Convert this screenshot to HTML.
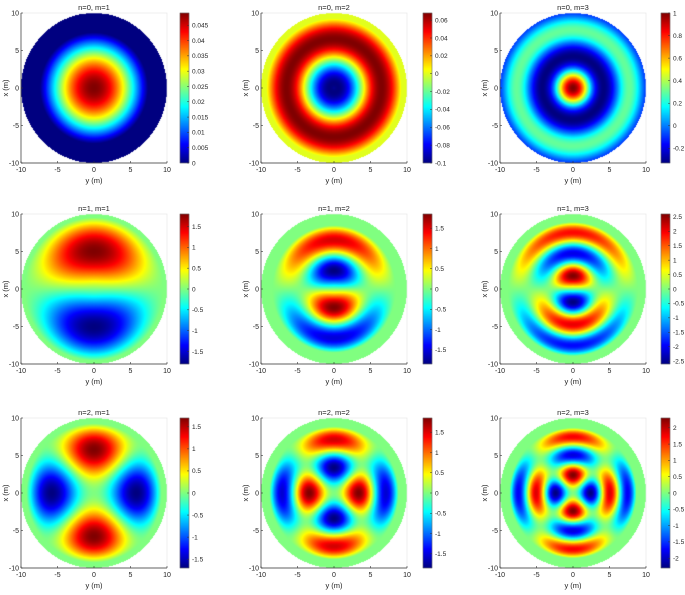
<!DOCTYPE html>
<html><head><meta charset="utf-8">
<style>
body{margin:0;background:#fff;}
#wrap{position:relative;width:685px;height:595px;overflow:hidden;font-family:"Liberation Sans",sans-serif;}
canvas,svg{position:absolute;left:0;top:0;}
</style></head>
<body>
<div id="wrap">
<canvas id="cv" width="685" height="595"></canvas>
<svg id="sv" width="685" height="595"></svg>
</div>
<script>
// mode parameters per panel
const modeN = [0,0,0, 1,1,1, 2,2,2];
const modeM = [1,2,3, 1,2,3, 1,2,3];
const besselZeros = [[2.4048,5.5201,8.6537],[3.8317,7.0156,10.1735],[5.1356,8.4172,11.6198]];
// colorbar ranges
const cbMin = [0,-0.1,-0.33, -1.8,-1.85,-2.6, -1.7,-1.85,-2.3];
const cbMax = [0.049,0.068,1, 1.8,1.85,2.6, 1.7,1.85,2.3];
const cbTicks = [
 [0,0.005,0.01,0.015,0.02,0.025,0.03,0.035,0.04,0.045],
 [-0.1,-0.08,-0.06,-0.04,-0.02,0,0.02,0.04,0.06],
 [-0.2,0,0.2,0.4,0.6,0.8,1],
 [-1.5,-1,-0.5,0,0.5,1,1.5],
 [-1.5,-1,-0.5,0,0.5,1,1.5],
 [-2.5,-2,-1.5,-1,-0.5,0,0.5,1,1.5,2,2.5],
 [-1.5,-1,-0.5,0,0.5,1,1.5],
 [-1.5,-1,-0.5,0,0.5,1,1.5],
 [-2,-1.5,-1,-0.5,0,0.5,1,1.5,2]
];
const axisTicks = [-10,-5,0,5,10];
// appearance tuning per panel (radial scale, envelope boost)
const radialScale = [1.35,1.08,1.05, 1.05,1.18,1.12, 1.08,1.13,1.15];
const envBoost = [0,0.3,0, 0.4,0.5,0.5, 0.4,0.5,0.5];

const colLeft=[21,261,500], colW=146, cbOff=[159,162,161], cbW=9;
const rowTop=[13,214,418], rowH=150;

function jet(t){t=Math.max(0,Math.min(1,t));
 const f=x=>Math.max(0,Math.min(1,x));
 return [f(1.5-Math.abs(4*t-3)),f(1.5-Math.abs(4*t-2)),f(1.5-Math.abs(4*t-1))].map(v=>Math.round(v*255));}
function besselJ(n,x){let s=0;const N=80;for(let i=0;i<N;i++){const tau=(i+0.5)*Math.PI/N;s+=Math.cos(n*tau-x*Math.sin(tau));}return s/N;}

const cv=document.getElementById('cv'),ctx=cv.getContext('2d');
const sv=document.getElementById('sv'),NS='http://www.w3.org/2000/svg';
function mk(tag,attrs,txt){const e=document.createElementNS(NS,tag);for(const k in attrs)e.setAttribute(k,attrs[k]);if(txt!==undefined)e.textContent=txt;sv.appendChild(e);return e;}
function fmt(v){return String(Math.round(v*1000)/1000);}

for(let p=0;p<9;p++){
 const n=modeN[p],m=modeM[p],k=besselZeros[n][m-1],sign=(m%2===1)?1:-1;
 const L=colLeft[p%3],T=rowTop[Math.floor(p/3)],W=colW,H=rowH;
 const vmin=cbMin[p],vmax=cbMax[p];
 const NL=600,lut=new Float64Array(NL+1);let fmx=0,fmn=0;
 for(let i=0;i<=NL;i++){
   let rr=(i/NL)*radialScale[p];
   let j;
   if(rr>1 && p!==2) j=0;
   else { j=besselJ(n,k*rr); j*=Math.pow(0.25+Math.min(rr,1),envBoost[p]); }
   const v=sign*j;lut[i]=v;
   if(n===0){fmx=Math.max(fmx,v);fmn=Math.min(fmn,v);}else{fmx=Math.max(fmx,Math.abs(v));fmn=-fmx;}}
 const img=ctx.createImageData(W,H);
 for(let py=0;py<H;py++)for(let px=0;px<W;px++){
   const Y=-10+20*(px+0.5)/W,X=10-20*(py+0.5)/H,r=Math.sqrt(X*X+Y*Y);
   const o=(py*W+px)*4;
   if(r>10){img.data[o]=255;img.data[o+1]=255;img.data[o+2]=255;img.data[o+3]=255;continue;}
   const phi=Math.atan2(Y,X);
   const f=lut[Math.round(r/10*NL)]*Math.cos(n*phi);
   let v=f>=0?(fmx>0?f/fmx*vmax:0):(fmn<0?f/fmn*vmin:0);
   const c=jet((v-vmin)/(vmax-vmin));
   img.data[o]=c[0];img.data[o+1]=c[1];img.data[o+2]=c[2];img.data[o+3]=255;}
 ctx.putImageData(img,L,T);
 const CL=L+cbOff[p%3];
 for(let i=0;i<H;i++){const c=jet(1-(i+0.5)/H);ctx.fillStyle=`rgb(${c[0]},${c[1]},${c[2]})`;ctx.fillRect(CL,T+i,cbW,1);}
 mk('rect',{x:L,y:T,width:W,height:H,fill:'none',stroke:'#e4e4e4','stroke-width':0.6,});
 mk('line',{x1:L,y1:T,x2:L,y2:T+H,stroke:'#333','stroke-width':0.7,});
 mk('line',{x1:L,y1:T+H,x2:L+W,y2:T+H,stroke:'#333','stroke-width':0.7,});
 axisTicks.forEach(t=>{
   const xx=L+(t+10)/20*W, yy=T+H-(t+10)/20*H;
   mk('line',{x1:xx,y1:T+H,x2:xx,y2:T+H-2,stroke:'#333','stroke-width':0.6});
   mk('line',{x1:L,y1:yy,x2:L+2,y2:yy,stroke:'#333','stroke-width':0.6});
   mk('text',{x:xx,y:T+H+9,'font-size':7,'text-anchor':'middle',fill:'#222',},String(t));
   mk('text',{x:L-2,y:yy+2.5,'font-size':7,'text-anchor':'end',fill:'#222',},String(t));
 });
 mk('text',{x:L+W/2,y:T+H+20,'font-size':7.5,'text-anchor':'middle',fill:'#222',},'y (m)');
 mk('text',{x:L-13,y:T+H/2,'font-size':7.5,'text-anchor':'middle',fill:'#222',transform:`rotate(-90 ${L-13} ${T+H/2})`,},'x (m)');
 mk('text',{x:L+W/2,y:T-3,'font-size':7.5,'text-anchor':'middle',fill:'#222',},`n=${n}, m=${m}`);
 mk('rect',{x:CL,y:T,width:cbW,height:H,fill:'none',stroke:'#555','stroke-width':0.5,});
 cbTicks[p].forEach(t=>{
   const yy=T+H-(t-vmin)/(vmax-vmin)*H;
   mk('line',{x1:CL+cbW-2,y1:yy,x2:CL+cbW,y2:yy,stroke:'#333','stroke-width':0.5});
   mk('text',{x:CL+cbW+3,y:yy+2.3,'font-size':6.5,fill:'#222',},fmt(t));
 });
}
</script>
</body></html>
